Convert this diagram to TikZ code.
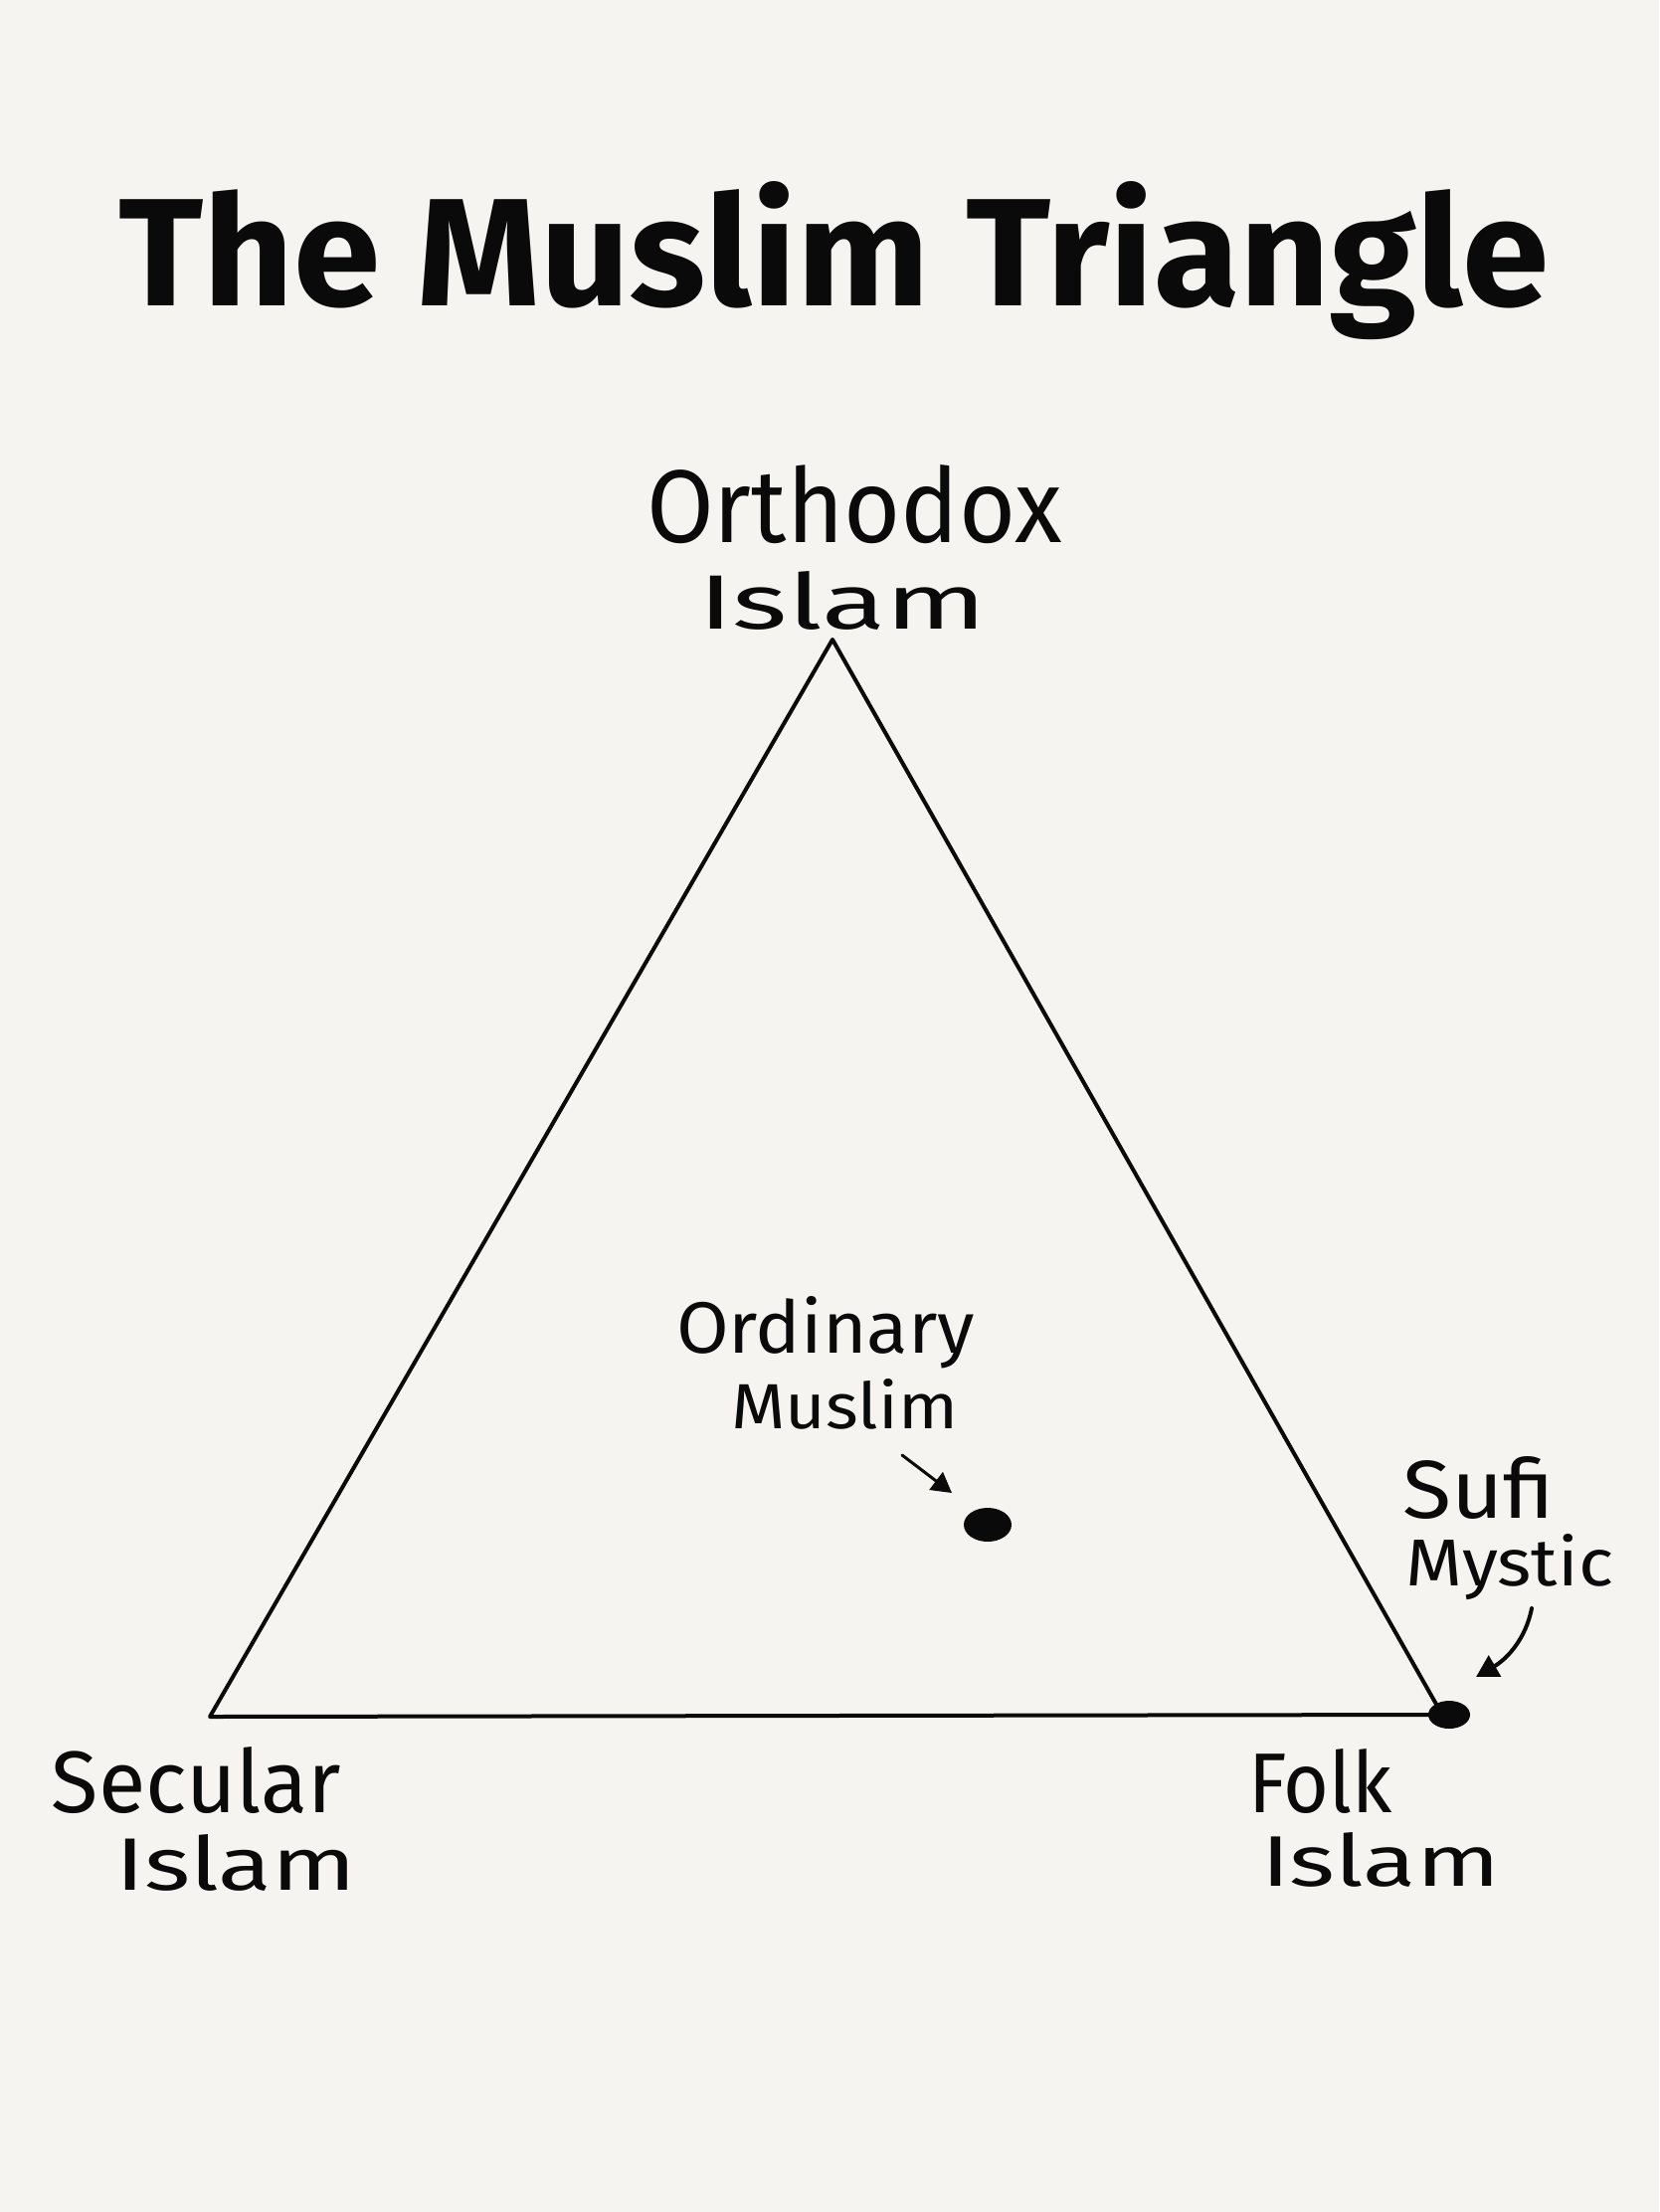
\documentclass[tikz,border=0pt]{standalone}
\usepackage{graphicx}
\usepackage{fontspec}
\setmainfont{Fira Sans}
\usetikzlibrary{arrows.meta,shapes.geometric}
\definecolor{paper}{HTML}{F5F4F0}
\definecolor{ink}{HTML}{0A0A0A}
\newcommand{\hw}[3]{\resizebox{#1pt}{#2pt}{#3}}
\tikzset{
  lbl/.style={anchor=base west, inner sep=0pt, outer sep=0pt, text=ink},
  edge/.style={draw=ink, line width=4pt, line join=round, line cap=round},
  pointer/.style={draw=ink, line width=4pt, line cap=round, -{Triangle[length=22pt,width=24pt]}},
  dot/.style={ellipse, fill=ink, draw=none, inner sep=0pt}
}
\begin{document}
\begin{tikzpicture}[x=1pt,y=-1pt]
\fill[paper] (0,0) rectangle (1668,2224);
\useasboundingbox (0,0) rectangle (1668,2224);
% title
\node[lbl] (title) at (119,307) {\hw{1437}{125}{\bfseries The Muslim Triangle}};
% vertices
\coordinate (apex) at (837,643);
\coordinate (sl) at (211,1726);
\coordinate (fk) at (1450,1724);
\draw[edge] (apex) -- (sl) -- (fk) -- cycle;
% labels
\node[lbl] (orth) at (650,545) {\hw{418}{78}{Orthodox}};
\node[lbl] (orthisl) at (702,632) {\hw{290}{58}{Islam}};
\node[lbl] (sec) at (52,1822) {\hw{291}{66}{Secular}};
\node[lbl] (secisl) at (116,1900) {\hw{242}{56}{Islam}};
\node[lbl] (folk) at (1255,1822) {\hw{145}{64}{Folk}};
\node[lbl] (folkisl) at (1268,1896) {\hw{240}{54}{Islam}};
\node[lbl] (ord) at (680,1360) {\hw{300}{57}{Ordinary}};
\node[lbl] (ordmus) at (735,1436) {\hw{228}{50}{Muslim}};
\node[lbl] (sufi) at (1410,1526) {\hw{153}{62}{Sufi}};
\node[lbl] (mystic) at (1413,1594) {\hw{209}{52}{Mystic}};
% dots
\node[dot, minimum width=48pt, minimum height=34pt] (odot) at (993,1533) {};
\node[dot, minimum width=42pt, minimum height=28pt] (sdot) at (1457,1724) {};
% arrows
\coordinate (oa1) at (907,1463);
\coordinate (oa2) at (957,1501);
\draw[pointer, line width=3pt, -{Triangle[length=20pt,width=22pt]}] (oa1) -- (oa2);
\coordinate (sa1) at (1540,1617);
\coordinate (sa2) at (1484,1686);
\draw[pointer] (sa1) .. controls (1534,1648) and (1515,1668) .. (sa2);
\end{tikzpicture}
\end{document}
